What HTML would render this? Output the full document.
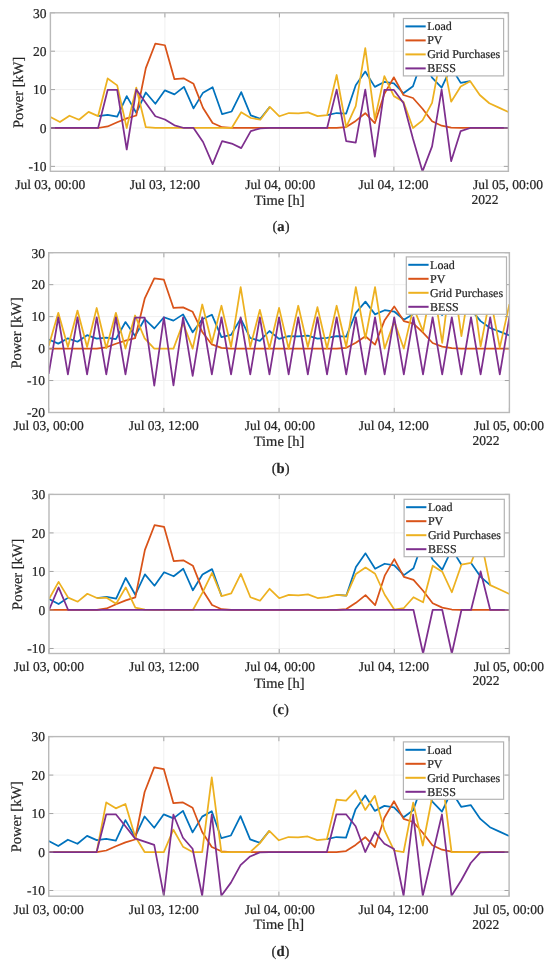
<!DOCTYPE html>
<html><head><meta charset="utf-8"><title>Power profiles</title>
<style>
html,body{margin:0;padding:0;background:#fff;}
svg{display:block;}
.gr{stroke:#f0f0f0;stroke-width:1;}
.tk{stroke:#959595;stroke-width:0.85;}
.ax{fill:none;stroke:#b9b9b9;stroke-width:1.4;}
.lg{fill:#fff;stroke:#b4b4b4;stroke-width:1.2;}
text{text-rendering:geometricPrecision;font-family:"Liberation Serif","Times New Roman",serif;fill:#262626;stroke:#262626;stroke-width:0.22px;}
.tl{font-size:13.5px;}
.al{font-size:14.5px;}
.lt{font-size:12px;}
.cp{font-size:14.6px;}
</style></head>
<body>
<svg width="550" height="967" viewBox="0 0 550 967">
<defs><clipPath id="c0"><rect x="50.4" y="12.8" width="458" height="158.5"/></clipPath><clipPath id="c1"><rect x="48.7" y="252.7" width="460.7" height="159.8"/></clipPath><clipPath id="c2"><rect x="49" y="494.4" width="460.4" height="159.1"/></clipPath><clipPath id="c3"><rect x="48.7" y="736.6" width="460.4" height="159.6"/></clipPath></defs>
<rect width="550" height="967" fill="#fff"/>
<line x1="50.4" y1="51.2" x2="508.4" y2="51.2" class="gr"/>
<line x1="50.4" y1="89.59" x2="508.4" y2="89.59" class="gr"/>
<line x1="50.4" y1="127.99" x2="508.4" y2="127.99" class="gr"/>
<line x1="50.4" y1="166.39" x2="508.4" y2="166.39" class="gr"/>
<line x1="164.9" y1="12.8" x2="164.9" y2="171.3" class="gr"/>
<line x1="279.4" y1="12.8" x2="279.4" y2="171.3" class="gr"/>
<line x1="393.9" y1="12.8" x2="393.9" y2="171.3" class="gr"/>
<g clip-path="url(#c0)" fill="none" stroke-width="1.75" stroke-linejoin="round">
<polyline stroke="#0072BD" points="98.11,116.09 107.65,114.93 117.19,116.66 126.73,96.12 136.28,112.82 145.82,92.47 155.36,103.8 164.9,90.36 174.44,94.39 183.98,86.9 193.53,108.41 203.07,92.66 212.61,87.29 222.15,114.17 231.69,111.48 241.23,92.09 250.78,115.32 260.32,118.77 269.86,106.87"/>
<polyline stroke="#0072BD" points="327.11,115.13 336.65,113.01 346.19,113.59 355.73,85.18 365.27,71.55 374.82,86.9 384.36,81.91 393.9,83.45 403.44,93.24 412.98,86.33 422.52,58.88 432.07,77.69 441.61,87.67 451.15,67.32 460.69,82.87 470.23,81.15"/>
<polyline stroke="#D95319" points="50.4,127.99 59.94,127.99 69.48,127.99 79.03,127.99 88.57,127.99 98.11,127.99 107.65,126.45 117.19,122.23 126.73,118.39 136.28,115.51 145.82,68.09 155.36,43.52 164.9,45.24 174.44,79.23 183.98,78.46 193.53,83.83 203.07,108.02 212.61,123 222.15,127.22 231.69,127.99 241.23,127.99 250.78,127.99 260.32,127.99 269.86,127.99 279.4,127.99 288.94,127.99 298.48,127.99 308.02,127.99 317.57,127.99 327.11,127.99 336.65,127.99 346.19,127.03 355.73,120.89 365.27,113.21 374.82,123.19 384.36,93.82 393.9,77.31 403.44,94.97 412.98,98.04 422.52,108.79 432.07,121.27 441.61,125.69 451.15,127.53 460.69,127.99 470.23,127.99 479.77,127.99 489.32,127.99 498.86,127.99 508.4,127.99"/>
<polyline stroke="#EDB120" points="50.4,117.05 59.94,122.04 69.48,115.7 79.03,119.73 88.57,111.86 98.11,116.09 107.65,78.46 117.19,85.37 126.73,127.99 136.28,87.67 145.82,127.22 155.36,127.99 164.9,127.99 174.44,127.99 183.98,127.99 193.53,127.99 203.07,127.99 212.61,127.99 222.15,127.99 231.69,127.99 241.23,112.25 250.78,118.01 260.32,119.73 269.86,106.87 279.4,116.28 288.94,113.01 298.48,113.4 308.02,112.44 317.57,116.09 327.11,115.13 336.65,75 346.19,127.22 355.73,106.1 365.27,48.12 374.82,119.16 384.36,76.15 393.9,96.12 403.44,101.69 412.98,127.99 422.52,120.31 432.07,102.84 441.61,51.58 451.15,101.69 460.69,86.52 470.23,81.15 479.77,94.97 489.32,103.22 498.86,107.64 508.4,112.05"/>
<polyline stroke="#7E2F8E" points="50.4,127.99 59.94,127.99 69.48,127.99 79.03,127.99 88.57,127.99 98.11,127.99 107.65,89.98 117.19,89.98 126.73,149.49 136.28,89.59 145.82,103.03 155.36,116.28 164.9,119.54 174.44,125.3 183.98,127.99 193.53,127.99 203.07,142 212.61,164.08 222.15,141.04 231.69,143.54 241.23,148.15 250.78,131.06 260.32,128.37 269.86,127.99 279.4,127.99 288.94,127.99 298.48,127.99 308.02,127.99 317.57,127.99 327.11,127.99 336.65,89.59 346.19,141.04 355.73,142.58 365.27,89.59 374.82,156.59 384.36,89.98 393.9,89.98 403.44,103.03 412.98,138.74 422.52,171.38 432.07,146.42 441.61,89.59 451.15,161.2 460.69,131.06 470.23,127.99 479.77,127.99 489.32,127.99 498.86,127.99 508.4,127.99"/>
</g>
<line x1="50.4" y1="12.8" x2="55" y2="12.8" class="tk"/>
<line x1="503.8" y1="12.8" x2="508.4" y2="12.8" class="tk"/>
<text x="46.6" y="17.6" text-anchor="end" class="tl">30</text>
<line x1="50.4" y1="51.2" x2="55" y2="51.2" class="tk"/>
<line x1="503.8" y1="51.2" x2="508.4" y2="51.2" class="tk"/>
<text x="46.6" y="56" text-anchor="end" class="tl">20</text>
<line x1="50.4" y1="89.59" x2="55" y2="89.59" class="tk"/>
<line x1="503.8" y1="89.59" x2="508.4" y2="89.59" class="tk"/>
<text x="46.6" y="94.39" text-anchor="end" class="tl">10</text>
<line x1="50.4" y1="127.99" x2="55" y2="127.99" class="tk"/>
<line x1="503.8" y1="127.99" x2="508.4" y2="127.99" class="tk"/>
<text x="46.6" y="132.79" text-anchor="end" class="tl">0</text>
<line x1="50.4" y1="166.39" x2="55" y2="166.39" class="tk"/>
<line x1="503.8" y1="166.39" x2="508.4" y2="166.39" class="tk"/>
<text x="46.6" y="171.19" text-anchor="end" class="tl">-10</text>
<line x1="50.4" y1="166.7" x2="50.4" y2="171.3" class="tk"/>
<line x1="50.4" y1="12.8" x2="50.4" y2="17.4" class="tk"/>
<line x1="164.9" y1="166.7" x2="164.9" y2="171.3" class="tk"/>
<line x1="164.9" y1="12.8" x2="164.9" y2="17.4" class="tk"/>
<line x1="279.4" y1="166.7" x2="279.4" y2="171.3" class="tk"/>
<line x1="279.4" y1="12.8" x2="279.4" y2="17.4" class="tk"/>
<line x1="393.9" y1="166.7" x2="393.9" y2="171.3" class="tk"/>
<line x1="393.9" y1="12.8" x2="393.9" y2="17.4" class="tk"/>
<line x1="508.4" y1="166.7" x2="508.4" y2="171.3" class="tk"/>
<line x1="508.4" y1="12.8" x2="508.4" y2="17.4" class="tk"/>
<text x="50.3" y="189.2" text-anchor="middle" class="tl">Jul 03, 00:00</text>
<text x="164.85" y="189.2" text-anchor="middle" class="tl">Jul 03, 12:00</text>
<text x="280.25" y="189.2" text-anchor="middle" class="tl">Jul 04, 00:00</text>
<text x="393.45" y="189.2" text-anchor="middle" class="tl">Jul 04, 12:00</text>
<text x="507.95" y="189.2" text-anchor="middle" class="tl">Jul 05, 00:00</text>
<text x="471.5" y="204" class="tl">2022</text>
<rect x="50.4" y="12.8" width="458" height="158.5" class="ax"/>
<text x="279.4" y="204.6" text-anchor="middle" class="al">Time [h]</text>
<text transform="translate(23.1,92.35) rotate(-90)" text-anchor="middle" class="al">Power [kW]</text>
<rect x="403.4" y="18.5" width="100.2" height="57.4" class="lg"/>
<line x1="405.4" y1="26.4" x2="425.7" y2="26.4" stroke="#0072BD" stroke-width="2"/>
<text x="427.2" y="30.4" class="lt">Load</text>
<line x1="405.4" y1="40.4" x2="425.7" y2="40.4" stroke="#D95319" stroke-width="2"/>
<text x="427.2" y="44.4" class="lt">PV</text>
<line x1="405.4" y1="54.4" x2="425.7" y2="54.4" stroke="#EDB120" stroke-width="2"/>
<text x="427.2" y="58.4" class="lt">Grid Purchases</text>
<line x1="405.4" y1="68.4" x2="425.7" y2="68.4" stroke="#7E2F8E" stroke-width="2"/>
<text x="427.2" y="72.4" class="lt">BESS</text>
<text x="281" y="231.4" text-anchor="middle" class="cp">(<tspan font-weight="bold">a</tspan>)</text>
<line x1="48.7" y1="284.66" x2="509.4" y2="284.66" class="gr"/>
<line x1="48.7" y1="316.62" x2="509.4" y2="316.62" class="gr"/>
<line x1="48.7" y1="348.58" x2="509.4" y2="348.58" class="gr"/>
<line x1="48.7" y1="380.54" x2="509.4" y2="380.54" class="gr"/>
<line x1="163.88" y1="252.7" x2="163.88" y2="412.5" class="gr"/>
<line x1="279.05" y1="252.7" x2="279.05" y2="412.5" class="gr"/>
<line x1="394.23" y1="252.7" x2="394.23" y2="412.5" class="gr"/>
<g clip-path="url(#c1)" fill="none" stroke-width="1.75" stroke-linejoin="round">
<polyline stroke="#0072BD" points="48.7,339.47 58.3,343.63 67.9,338.35 77.49,341.71 87.09,335.16 96.69,338.67 106.29,337.71 115.89,339.15 125.48,322.05 135.08,335.96 144.68,319.02 154.28,328.45 163.88,317.26 173.47,320.62 183.07,314.38 192.67,332.28 202.27,319.18 211.86,314.7 221.46,337.07 231.06,334.84 240.66,318.7 250.26,338.03 259.85,340.91 269.45,331 279.05,338.83 288.65,336.12 298.25,336.44 307.84,335.64 317.44,338.67 327.04,337.87 336.64,336.12 346.24,336.6 355.83,312.94 365.43,301.6 375.03,314.38 384.63,310.23 394.23,311.51 403.82,319.66 413.42,313.9 423.02,291.05 432.62,306.71 442.21,315.02 451.81,298.08 461.41,311.03 471.01,309.59 480.61,321.09 490.2,327.97 499.8,331.64 509.4,335.32"/>
<polyline stroke="#D95319" points="48.7,348.58 58.3,348.58 67.9,348.58 77.49,348.58 87.09,348.58 96.69,348.58 106.29,347.3 115.89,343.79 125.48,340.59 135.08,338.19 144.68,298.72 154.28,278.27 163.88,279.71 173.47,307.99 183.07,307.35 192.67,311.83 202.27,331.96 211.86,344.43 221.46,347.94 231.06,348.58 240.66,348.58 250.26,348.58 259.85,348.58 269.45,348.58 279.05,348.58 288.65,348.58 298.25,348.58 307.84,348.58 317.44,348.58 327.04,348.58 336.64,348.58 346.24,347.78 355.83,342.67 365.43,336.28 375.03,344.58 384.63,320.14 394.23,306.39 403.82,321.09 413.42,323.65 423.02,332.6 432.62,342.99 442.21,346.66 451.81,348.2 461.41,348.58 471.01,348.58 480.61,348.58 490.2,348.58 499.8,348.58 509.4,348.58"/>
<polyline stroke="#EDB120" points="48.7,346.02 58.3,312.78 67.9,346.98 77.49,310.55 87.09,346.98 96.69,307.99 106.29,348.26 115.89,312.78 125.48,348.58 135.08,315.5 144.68,338.35 154.28,348.58 163.88,348.58 173.47,348.58 183.07,323.01 192.67,348.58 202.27,304.48 211.86,342.83 221.46,305.75 231.06,346.98 240.66,287.22 250.26,346.98 259.85,309.91 269.45,348.26 279.05,307.83 288.65,348.58 298.25,305.75 307.84,346.98 317.44,307.19 327.04,348.26 336.64,305.75 346.24,346.98 355.83,287.22 365.43,338.51 375.03,287.22 384.63,348.58 394.23,321.41 403.82,348.58 413.42,307.35 423.02,331.32 432.62,280.82 442.21,342.83 451.81,267.72 461.41,336.12 471.01,277.95 480.61,346.34 490.2,296.8 499.8,347.62 509.4,304.16"/>
<polyline stroke="#7E2F8E" points="48.7,373.83 58.3,317.26 67.9,374.31 77.49,317.26 87.09,374.31 96.69,317.26 106.29,374.31 115.89,317.26 125.48,374.31 135.08,317.58 144.68,317.58 154.28,385.65 163.88,317.26 173.47,385.33 183.07,317.26 192.67,375.91 202.27,317.26 211.86,374.31 221.46,317.26 231.06,374.31 240.66,317.26 250.26,374.31 259.85,317.26 269.45,374.31 279.05,317.26 288.65,374.31 298.25,317.26 307.84,374.31 317.44,317.26 327.04,374.31 336.64,317.26 346.24,374.31 355.83,317.26 365.43,374.31 375.03,317.26 384.63,374.31 394.23,317.26 403.82,374.31 413.42,317.26 423.02,374.31 432.62,317.26 442.21,374.31 451.81,317.26 461.41,374.31 471.01,317.26 480.61,374.31 490.2,317.26 499.8,374.31 509.4,317.26"/>
</g>
<line x1="48.7" y1="252.7" x2="53.3" y2="252.7" class="tk"/>
<line x1="504.8" y1="252.7" x2="509.4" y2="252.7" class="tk"/>
<text x="44.9" y="257.5" text-anchor="end" class="tl">30</text>
<line x1="48.7" y1="284.66" x2="53.3" y2="284.66" class="tk"/>
<line x1="504.8" y1="284.66" x2="509.4" y2="284.66" class="tk"/>
<text x="44.9" y="289.46" text-anchor="end" class="tl">20</text>
<line x1="48.7" y1="316.62" x2="53.3" y2="316.62" class="tk"/>
<line x1="504.8" y1="316.62" x2="509.4" y2="316.62" class="tk"/>
<text x="44.9" y="321.42" text-anchor="end" class="tl">10</text>
<line x1="48.7" y1="348.58" x2="53.3" y2="348.58" class="tk"/>
<line x1="504.8" y1="348.58" x2="509.4" y2="348.58" class="tk"/>
<text x="44.9" y="353.38" text-anchor="end" class="tl">0</text>
<line x1="48.7" y1="380.54" x2="53.3" y2="380.54" class="tk"/>
<line x1="504.8" y1="380.54" x2="509.4" y2="380.54" class="tk"/>
<text x="44.9" y="385.34" text-anchor="end" class="tl">-10</text>
<line x1="48.7" y1="412.5" x2="53.3" y2="412.5" class="tk"/>
<line x1="504.8" y1="412.5" x2="509.4" y2="412.5" class="tk"/>
<text x="44.9" y="417.3" text-anchor="end" class="tl">-20</text>
<line x1="48.7" y1="407.9" x2="48.7" y2="412.5" class="tk"/>
<line x1="48.7" y1="252.7" x2="48.7" y2="257.3" class="tk"/>
<line x1="163.88" y1="407.9" x2="163.88" y2="412.5" class="tk"/>
<line x1="163.88" y1="252.7" x2="163.88" y2="257.3" class="tk"/>
<line x1="279.05" y1="407.9" x2="279.05" y2="412.5" class="tk"/>
<line x1="279.05" y1="252.7" x2="279.05" y2="257.3" class="tk"/>
<line x1="394.23" y1="407.9" x2="394.23" y2="412.5" class="tk"/>
<line x1="394.23" y1="252.7" x2="394.23" y2="257.3" class="tk"/>
<line x1="509.4" y1="407.9" x2="509.4" y2="412.5" class="tk"/>
<line x1="509.4" y1="252.7" x2="509.4" y2="257.3" class="tk"/>
<text x="48.6" y="430.1" text-anchor="middle" class="tl">Jul 03, 00:00</text>
<text x="163.82" y="430.1" text-anchor="middle" class="tl">Jul 03, 12:00</text>
<text x="279.9" y="430.1" text-anchor="middle" class="tl">Jul 04, 00:00</text>
<text x="393.78" y="430.1" text-anchor="middle" class="tl">Jul 04, 12:00</text>
<text x="508.95" y="430.1" text-anchor="middle" class="tl">Jul 05, 00:00</text>
<text x="472.5" y="444.9" class="tl">2022</text>
<rect x="48.7" y="252.7" width="460.7" height="159.8" class="ax"/>
<text x="279.05" y="446" text-anchor="middle" class="al">Time [h]</text>
<text transform="translate(21.4,332.9) rotate(-90)" text-anchor="middle" class="al">Power [kW]</text>
<rect x="406.3" y="256.9" width="100.2" height="57.4" class="lg"/>
<line x1="408.3" y1="264.8" x2="428.6" y2="264.8" stroke="#0072BD" stroke-width="2"/>
<text x="430.1" y="268.8" class="lt">Load</text>
<line x1="408.3" y1="278.8" x2="428.6" y2="278.8" stroke="#D95319" stroke-width="2"/>
<text x="430.1" y="282.8" class="lt">PV</text>
<line x1="408.3" y1="292.8" x2="428.6" y2="292.8" stroke="#EDB120" stroke-width="2"/>
<text x="430.1" y="296.8" class="lt">Grid Purchases</text>
<line x1="408.3" y1="306.8" x2="428.6" y2="306.8" stroke="#7E2F8E" stroke-width="2"/>
<text x="430.1" y="310.8" class="lt">BESS</text>
<text x="280.65" y="473.1" text-anchor="middle" class="cp">(<tspan font-weight="bold">b</tspan>)</text>
<line x1="49" y1="532.92" x2="509.4" y2="532.92" class="gr"/>
<line x1="49" y1="571.45" x2="509.4" y2="571.45" class="gr"/>
<line x1="49" y1="609.97" x2="509.4" y2="609.97" class="gr"/>
<line x1="49" y1="648.49" x2="509.4" y2="648.49" class="gr"/>
<line x1="164.1" y1="494.4" x2="164.1" y2="653.5" class="gr"/>
<line x1="279.2" y1="494.4" x2="279.2" y2="653.5" class="gr"/>
<line x1="394.3" y1="494.4" x2="394.3" y2="653.5" class="gr"/>
<g clip-path="url(#c2)" fill="none" stroke-width="1.75" stroke-linejoin="round">
<polyline stroke="#0072BD" points="49,598.99 58.59,604 68.18,597.64"/>
<polyline stroke="#0072BD" points="96.96,598.03 106.55,596.87 116.14,598.6 125.73,577.99 135.32,594.75 144.92,574.34 154.51,585.7 164.1,572.22 173.69,576.26 183.28,568.75 192.88,590.32 202.47,574.53 212.06,569.13 221.65,596.1"/>
<polyline stroke="#0072BD" points="336.75,594.95 346.34,595.52 355.93,567.02 365.52,553.34 375.12,568.75 384.71,563.74 394.3,565.28 403.89,575.11 413.48,568.17 423.07,540.63 432.67,559.5 442.26,569.52 451.85,549.1 461.44,564.7"/>
<polyline stroke="#0072BD" points="471.03,562.97 480.62,576.84 490.22,585.12"/>
<polyline stroke="#D95319" points="49,609.97 58.59,609.97 68.18,609.97 77.77,609.97 87.37,609.97 96.96,609.97 106.55,608.43 116.14,604.19 125.73,600.34 135.32,597.45 144.92,549.87 154.51,525.22 164.1,526.95 173.69,561.04 183.28,560.27 192.88,565.67 202.47,589.94 212.06,604.96 221.65,609.2 231.24,609.97 240.83,609.97 250.42,609.97 260.02,609.97 269.61,609.97 279.2,609.97 288.79,609.97 298.38,609.97 307.97,609.97 317.57,609.97 327.16,609.97 336.75,609.97 346.34,609.01 355.93,602.84 365.52,595.14 375.12,605.15 384.71,575.68 394.3,559.12 403.89,576.84 413.48,579.92 423.07,590.71 432.67,603.23 442.26,607.66 451.85,609.51 461.44,609.97 471.03,609.97 480.62,609.97 490.22,609.97 499.81,609.97 509.4,609.97"/>
<polyline stroke="#EDB120" points="49,598.99 58.59,581.85 68.18,597.64 77.77,601.69 87.37,593.79 96.96,598.03 106.55,597.64 116.14,603.81 125.73,587.43 135.32,607.66 144.92,609.58 154.51,609.97 164.1,609.97 173.69,609.97 183.28,609.97 192.88,609.97 202.47,592.63 212.06,572.99 221.65,596.1 231.24,593.4 240.83,573.95 250.42,597.26 260.02,600.72 269.61,588.78 279.2,598.22 288.79,594.95 298.38,595.33 307.97,594.37 317.57,598.03 327.16,597.06 336.75,594.95 346.34,595.72 355.93,573.95 365.52,567.59 375.12,573.76 384.71,594.75 394.3,609.58 403.89,608.04 413.48,597.26 423.07,602.26 432.67,565.67 442.26,571.64 451.85,592.25 461.44,564.7 471.03,562.97 480.62,538.32 490.22,585.12 499.81,589.55 509.4,593.98"/>
<polyline stroke="#7E2F8E" points="49,609.97 58.59,587.43 68.18,609.97 77.77,609.97 87.37,609.97 96.96,609.97 106.55,609.97 116.14,609.97 125.73,609.97 135.32,609.97 144.92,609.97 154.51,609.97 164.1,609.97 173.69,609.97 183.28,609.97 192.88,609.97 202.47,609.97 212.06,609.97 221.65,609.97 231.24,609.97 240.83,609.97 250.42,609.97 260.02,609.97 269.61,609.97 279.2,609.97 288.79,609.97 298.38,609.97 307.97,609.97 317.57,609.97 327.16,609.97 336.75,609.97 346.34,609.97 355.93,609.97 365.52,609.97 375.12,609.97 384.71,609.97 394.3,609.97 403.89,609.97 413.48,609.97 423.07,653.5 432.67,609.97 442.26,609.97 451.85,653.5 461.44,609.97 471.03,609.97 480.62,571.45 490.22,609.97 499.81,609.97 509.4,609.97"/>
</g>
<line x1="49" y1="494.4" x2="53.6" y2="494.4" class="tk"/>
<line x1="504.8" y1="494.4" x2="509.4" y2="494.4" class="tk"/>
<text x="45.2" y="499.2" text-anchor="end" class="tl">30</text>
<line x1="49" y1="532.92" x2="53.6" y2="532.92" class="tk"/>
<line x1="504.8" y1="532.92" x2="509.4" y2="532.92" class="tk"/>
<text x="45.2" y="537.72" text-anchor="end" class="tl">20</text>
<line x1="49" y1="571.45" x2="53.6" y2="571.45" class="tk"/>
<line x1="504.8" y1="571.45" x2="509.4" y2="571.45" class="tk"/>
<text x="45.2" y="576.25" text-anchor="end" class="tl">10</text>
<line x1="49" y1="609.97" x2="53.6" y2="609.97" class="tk"/>
<line x1="504.8" y1="609.97" x2="509.4" y2="609.97" class="tk"/>
<text x="45.2" y="614.77" text-anchor="end" class="tl">0</text>
<line x1="49" y1="648.49" x2="53.6" y2="648.49" class="tk"/>
<line x1="504.8" y1="648.49" x2="509.4" y2="648.49" class="tk"/>
<text x="45.2" y="653.29" text-anchor="end" class="tl">-10</text>
<line x1="49" y1="648.9" x2="49" y2="653.5" class="tk"/>
<line x1="49" y1="494.4" x2="49" y2="499" class="tk"/>
<line x1="164.1" y1="648.9" x2="164.1" y2="653.5" class="tk"/>
<line x1="164.1" y1="494.4" x2="164.1" y2="499" class="tk"/>
<line x1="279.2" y1="648.9" x2="279.2" y2="653.5" class="tk"/>
<line x1="279.2" y1="494.4" x2="279.2" y2="499" class="tk"/>
<line x1="394.3" y1="648.9" x2="394.3" y2="653.5" class="tk"/>
<line x1="394.3" y1="494.4" x2="394.3" y2="499" class="tk"/>
<line x1="509.4" y1="648.9" x2="509.4" y2="653.5" class="tk"/>
<line x1="509.4" y1="494.4" x2="509.4" y2="499" class="tk"/>
<text x="48.9" y="670.5" text-anchor="middle" class="tl">Jul 03, 00:00</text>
<text x="164.05" y="670.5" text-anchor="middle" class="tl">Jul 03, 12:00</text>
<text x="280.05" y="670.5" text-anchor="middle" class="tl">Jul 04, 00:00</text>
<text x="393.85" y="670.5" text-anchor="middle" class="tl">Jul 04, 12:00</text>
<text x="508.95" y="670.5" text-anchor="middle" class="tl">Jul 05, 00:00</text>
<text x="472.5" y="685.3" class="tl">2022</text>
<rect x="49" y="494.4" width="460.4" height="159.1" class="ax"/>
<text x="279.2" y="687.5" text-anchor="middle" class="al">Time [h]</text>
<text transform="translate(21.7,574.25) rotate(-90)" text-anchor="middle" class="al">Power [kW]</text>
<rect x="404.1" y="499.3" width="100.2" height="57.4" class="lg"/>
<line x1="406.1" y1="507.2" x2="426.4" y2="507.2" stroke="#0072BD" stroke-width="2"/>
<text x="427.9" y="511.2" class="lt">Load</text>
<line x1="406.1" y1="521.2" x2="426.4" y2="521.2" stroke="#D95319" stroke-width="2"/>
<text x="427.9" y="525.2" class="lt">PV</text>
<line x1="406.1" y1="535.2" x2="426.4" y2="535.2" stroke="#EDB120" stroke-width="2"/>
<text x="427.9" y="539.2" class="lt">Grid Purchases</text>
<line x1="406.1" y1="549.2" x2="426.4" y2="549.2" stroke="#7E2F8E" stroke-width="2"/>
<text x="427.9" y="553.2" class="lt">BESS</text>
<text x="280.8" y="713.7" text-anchor="middle" class="cp">(<tspan font-weight="bold">c</tspan>)</text>
<line x1="48.7" y1="775.08" x2="509.1" y2="775.08" class="gr"/>
<line x1="48.7" y1="813.55" x2="509.1" y2="813.55" class="gr"/>
<line x1="48.7" y1="852.03" x2="509.1" y2="852.03" class="gr"/>
<line x1="48.7" y1="890.51" x2="509.1" y2="890.51" class="gr"/>
<line x1="163.8" y1="736.6" x2="163.8" y2="896.2" class="gr"/>
<line x1="278.9" y1="736.6" x2="278.9" y2="896.2" class="gr"/>
<line x1="394" y1="736.6" x2="394" y2="896.2" class="gr"/>
<g clip-path="url(#c3)" fill="none" stroke-width="1.75" stroke-linejoin="round">
<polyline stroke="#0072BD" points="48.7,841.06 58.29,846.07 67.88,839.72 77.48,843.76 87.07,835.87 96.66,840.1 106.25,838.95 115.84,840.68 125.43,820.09 135.03,836.83 144.62,816.44 154.21,827.79 163.8,814.32 173.39,818.36 182.98,810.86 192.58,832.41 202.17,816.63 211.76,811.24 221.35,838.18 230.94,835.48 240.53,816.05 250.13,839.33 259.72,842.79 269.31,830.87"/>
<polyline stroke="#0072BD" points="326.86,839.14 336.45,837.02 346.04,837.6 355.63,809.13 365.23,795.47 374.82,810.86 384.41,805.86 394,807.4 403.59,817.21 413.18,810.28 422.78,782.77 432.37,801.63 441.96,811.63 451.55,791.24 461.14,806.82 470.73,805.09 480.32,818.94 489.92,827.21 499.51,831.64 509.1,836.06"/>
<polyline stroke="#D95319" points="48.7,852.03 58.29,852.03 67.88,852.03 77.48,852.03 87.07,852.03 96.66,852.03 106.25,850.49 115.84,846.26 125.43,842.41 135.03,839.52 144.62,792.01 154.21,767.38 163.8,769.11 173.39,803.16 182.98,802.39 192.58,807.78 202.17,832.02 211.76,847.03 221.35,851.26 230.94,852.03 240.53,852.03 250.13,852.03 259.72,852.03 269.31,852.03 278.9,852.03 288.49,852.03 298.08,852.03 307.68,852.03 317.27,852.03 326.86,852.03 336.45,852.03 346.04,851.07 355.63,844.91 365.23,837.22 374.82,847.22 384.41,817.79 394,801.24 403.59,818.94 413.18,822.02 422.78,832.79 432.37,845.3 441.96,849.72 451.55,851.57 461.14,852.03 470.73,852.03 480.32,852.03 489.92,852.03 499.51,852.03 509.1,852.03"/>
<polyline stroke="#EDB120" points="48.7,852.03 58.29,852.03 67.88,852.03 77.48,852.03 87.07,852.03 96.66,852.03 106.25,802.39 115.84,808.36 125.43,803.93 135.03,836.25 144.62,852.03 154.21,852.03 163.8,852.03 173.39,829.71 182.98,846.64 192.58,852.03 202.17,852.03 211.76,777.38 221.35,852.03 230.94,852.03 240.53,852.03 250.13,852.03 259.72,843.37 269.31,830.87 278.9,840.29 288.49,837.02 298.08,837.41 307.68,836.45 317.27,840.1 326.86,839.14 336.45,799.7 346.04,800.66 355.63,790.47 365.23,809.9 374.82,795.85 384.41,830.1 394,850.49 403.59,852.03 413.18,802.59 422.78,845.49 432.37,796.24 441.96,776.42 451.55,852.03 461.14,852.03 470.73,852.03 480.32,852.03 489.92,852.03 499.51,852.03 509.1,852.03"/>
<polyline stroke="#7E2F8E" points="48.7,852.03 58.29,852.03 67.88,852.03 77.48,852.03 87.07,852.03 96.66,852.03 106.25,814.32 115.84,814.32 125.43,826.25 135.03,838.37 144.62,841.64 154.21,844.91 163.8,895.7 173.39,814.51 182.98,837.79 192.58,848.76 202.17,895.7 211.76,814.51 221.35,895.7 230.94,882.62 240.53,865.11 250.13,856.45 259.72,852.41 269.31,852.03 278.9,852.03 288.49,852.03 298.08,852.03 307.68,852.03 317.27,852.03 326.86,852.03 336.45,814.32 346.04,814.32 355.63,826.25 365.23,852.03 374.82,832.02 384.41,843.76 394,848.95 403.59,895.7 413.18,814.51 422.78,895.7 432.37,855.11 441.96,814.51 451.55,895.7 461.14,880.5 470.73,862.99 480.32,852.41 489.92,852.03 499.51,852.03 509.1,852.03"/>
</g>
<line x1="48.7" y1="736.6" x2="53.3" y2="736.6" class="tk"/>
<line x1="504.5" y1="736.6" x2="509.1" y2="736.6" class="tk"/>
<text x="44.9" y="741.4" text-anchor="end" class="tl">30</text>
<line x1="48.7" y1="775.08" x2="53.3" y2="775.08" class="tk"/>
<line x1="504.5" y1="775.08" x2="509.1" y2="775.08" class="tk"/>
<text x="44.9" y="779.88" text-anchor="end" class="tl">20</text>
<line x1="48.7" y1="813.55" x2="53.3" y2="813.55" class="tk"/>
<line x1="504.5" y1="813.55" x2="509.1" y2="813.55" class="tk"/>
<text x="44.9" y="818.35" text-anchor="end" class="tl">10</text>
<line x1="48.7" y1="852.03" x2="53.3" y2="852.03" class="tk"/>
<line x1="504.5" y1="852.03" x2="509.1" y2="852.03" class="tk"/>
<text x="44.9" y="856.83" text-anchor="end" class="tl">0</text>
<line x1="48.7" y1="890.51" x2="53.3" y2="890.51" class="tk"/>
<line x1="504.5" y1="890.51" x2="509.1" y2="890.51" class="tk"/>
<text x="44.9" y="895.31" text-anchor="end" class="tl">-10</text>
<line x1="48.7" y1="891.6" x2="48.7" y2="896.2" class="tk"/>
<line x1="48.7" y1="736.6" x2="48.7" y2="741.2" class="tk"/>
<line x1="163.8" y1="891.6" x2="163.8" y2="896.2" class="tk"/>
<line x1="163.8" y1="736.6" x2="163.8" y2="741.2" class="tk"/>
<line x1="278.9" y1="891.6" x2="278.9" y2="896.2" class="tk"/>
<line x1="278.9" y1="736.6" x2="278.9" y2="741.2" class="tk"/>
<line x1="394" y1="891.6" x2="394" y2="896.2" class="tk"/>
<line x1="394" y1="736.6" x2="394" y2="741.2" class="tk"/>
<line x1="509.1" y1="891.6" x2="509.1" y2="896.2" class="tk"/>
<line x1="509.1" y1="736.6" x2="509.1" y2="741.2" class="tk"/>
<text x="48.6" y="914" text-anchor="middle" class="tl">Jul 03, 00:00</text>
<text x="163.75" y="914" text-anchor="middle" class="tl">Jul 03, 12:00</text>
<text x="279.75" y="914" text-anchor="middle" class="tl">Jul 04, 00:00</text>
<text x="393.55" y="914" text-anchor="middle" class="tl">Jul 04, 12:00</text>
<text x="508.65" y="914" text-anchor="middle" class="tl">Jul 05, 00:00</text>
<text x="472.2" y="928.8" class="tl">2022</text>
<rect x="48.7" y="736.6" width="460.4" height="159.6" class="ax"/>
<text x="278.9" y="929.3" text-anchor="middle" class="al">Time [h]</text>
<text transform="translate(21.4,816.7) rotate(-90)" text-anchor="middle" class="al">Power [kW]</text>
<rect x="403.4" y="741.9" width="100.2" height="57.4" class="lg"/>
<line x1="405.4" y1="749.8" x2="425.7" y2="749.8" stroke="#0072BD" stroke-width="2"/>
<text x="427.2" y="753.8" class="lt">Load</text>
<line x1="405.4" y1="763.8" x2="425.7" y2="763.8" stroke="#D95319" stroke-width="2"/>
<text x="427.2" y="767.8" class="lt">PV</text>
<line x1="405.4" y1="777.8" x2="425.7" y2="777.8" stroke="#EDB120" stroke-width="2"/>
<text x="427.2" y="781.8" class="lt">Grid Purchases</text>
<line x1="405.4" y1="791.8" x2="425.7" y2="791.8" stroke="#7E2F8E" stroke-width="2"/>
<text x="427.2" y="795.8" class="lt">BESS</text>
<text x="280.5" y="956.1" text-anchor="middle" class="cp">(<tspan font-weight="bold">d</tspan>)</text>
</svg>
</body></html>
